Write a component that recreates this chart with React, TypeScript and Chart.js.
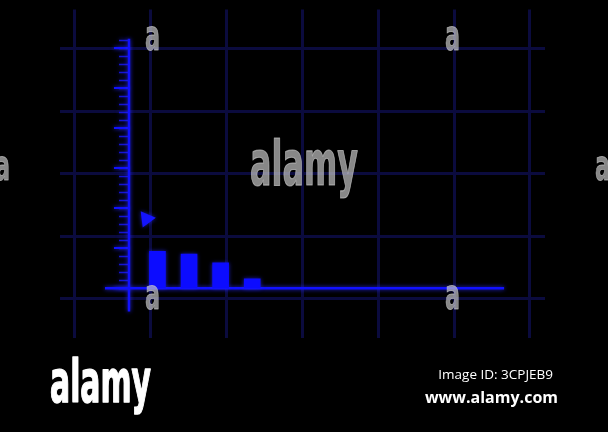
import React, { useEffect, useRef } from "react";
import { Chart, registerables } from "chart.js";

Chart.register(...registerables);

// ---- data ----
const BAR_X = [0.9, 1.9, 2.9, 3.9];
const BAR_VALUES = [0.92, 0.85, 0.63, 0.23];
const MARKER_X = [0.55];
const MARKER_Y = [1.73];
const MAJOR_TICKS = [0, 1, 2, 3, 4, 5, 6];
const MINOR_TICK_STEP = 0.2;
const MINOR_TICK_MAX = 6.2;
const GRID_X = [0, 1, 2, 3, 4, 5, 6];
const GRID_Y = [0, 1, 2, 3, 4];
const X_AXIS_RANGE = [-0.76, 11.87];
const Y_AXIS_RANGE = [-0.585, 6.22];

const BLUE = "#1111ff";
const GRID_COLOR = "#0b0b3e";

function drawFit(
  ctx: CanvasRenderingContext2D,
  text: string,
  cx: number,
  baseline: number,
  xHeight: number,
  width: number,
  color: string,
  bolden = 0
) {
  const size = xHeight / 0.53;
  ctx.save();
  ctx.font = `bold ${size}px 'Liberation Sans Narrow', 'DejaVu Sans Condensed', sans-serif`;
  ctx.fillStyle = color;
  ctx.strokeStyle = color;
  ctx.lineJoin = "round";
  ctx.textAlign = "center";
  ctx.textBaseline = "alphabetic";
  const w = ctx.measureText(text).width;
  ctx.translate(cx, baseline);
  ctx.scale(width / w, 1);
  ctx.fillText(text, 0, 0);
  if (bolden > 0) {
    ctx.lineWidth = bolden;
    ctx.strokeText(text, 0, 0);
  }
  ctx.restore();
}

const axisPlugin = {
  id: "axisLines",
  beforeDatasetsDraw(chart: any) {
    const { ctx, scales } = chart;
    const x = scales.x;
    const y = scales.y;
    const y0 = y.getPixelForValue(0);
    const x0 = x.getPixelForValue(0);
    ctx.save();
    ctx.shadowColor = "rgba(40,40,255,0.9)";
    ctx.shadowBlur = 4;
    // minor ticks
    ctx.strokeStyle = "rgba(25,25,255,0.8)";
    ctx.lineWidth = 1.5;
    ctx.beginPath();
    for (let v = 0; v <= MINOR_TICK_MAX + 1e-9; v += MINOR_TICK_STEP) {
      const py = Math.round(y.getPixelForValue(v)) + 0.5;
      ctx.moveTo(x0 - 10, py);
      ctx.lineTo(x0, py);
    }
    ctx.stroke();
    // major ticks
    ctx.strokeStyle = BLUE;
    ctx.lineWidth = 2;
    ctx.beginPath();
    MAJOR_TICKS.forEach((v) => {
      const py = Math.round(y.getPixelForValue(v));
      ctx.moveTo(x0 - 15, py);
      ctx.lineTo(x0, py);
    });
    ctx.stroke();
    // axis lines
    ctx.lineWidth = 2.5;
    ctx.beginPath();
    ctx.moveTo(x.getPixelForValue(X_AXIS_RANGE[0]), y0);
    ctx.lineTo(x.getPixelForValue(X_AXIS_RANGE[1]), y0);
    ctx.moveTo(x0, y.getPixelForValue(Y_AXIS_RANGE[0]));
    ctx.lineTo(x0, y.getPixelForValue(Y_AXIS_RANGE[1]));
    ctx.stroke();
    ctx.restore();
    ctx.save();
    ctx.shadowColor = "rgba(40,40,255,0.7)";
    ctx.shadowBlur = 4;
  },
  afterDatasetsDraw(chart: any) {
    chart.ctx.restore();
  },
};

const watermarkPlugin = {
  id: "watermark",
  afterDraw(chart: any) {
    const ctx: CanvasRenderingContext2D = chart.ctx;
    const gray = "rgba(200,200,200,0.68)";
    const smallA: [number, number][] = [
      [152.5, 50],
      [452.5, 50],
      [2.5, 180],
      [602.5, 180],
      [152.5, 309],
      [452.5, 309],
    ];
    smallA.forEach(([cx, b]) => drawFit(ctx, "a", cx, b, 23, 15, gray, 0.8));
    drawFit(ctx, "alamy", 304, 185, 33, 108, gray, 1.2);
    drawFit(ctx, "alamy", 100.5, 402, 31, 101, "#ffffff", 1.4);

    ctx.save();
    ctx.fillStyle = "#ffffff";
    ctx.textAlign = "right";
    ctx.textBaseline = "alphabetic";
    ctx.font = "13.5px 'Open Sans', sans-serif";
    ctx.fillText("Image ID: 3CPJEB9", 553, 379);
    ctx.font = "bold 16px 'Open Sans', sans-serif";
    ctx.fillText("www.alamy.com", 558, 403);
    ctx.restore();
  },
};

export default function App() {
  const canvasRef = useRef<HTMLCanvasElement | null>(null);

  useEffect(() => {
    if (!canvasRef.current) return;
    const chart = new Chart(canvasRef.current, {
      type: "bar",
      data: {
        datasets: [
          {
            type: "bar",
            data: BAR_X.map((x, i) => ({ x, y: BAR_VALUES[i] })),
            backgroundColor: "#0c0cff",
            borderWidth: 0,
            barThickness: 16,
            xAxisID: "x",
            yAxisID: "y",
          } as any,
          {
            type: "scatter",
            data: MARKER_X.map((x, i) => ({ x, y: MARKER_Y[i] })),
            pointStyle: "triangle",
            rotation: 83,
            pointRadius: 9.5,
            backgroundColor: "#1414ff",
            borderWidth: 0,
            xAxisID: "x",
            yAxisID: "y",
          } as any,
        ],
      },
      options: {
        responsive: false,
        animation: false,
        events: [],
        layout: { padding: { left: 60, right: 63, top: 2, bottom: 94 } },
        plugins: {
          legend: { display: false },
          tooltip: { enabled: false },
          title: { display: false },
        },
        scales: {
          gx: {
            type: "linear",
            position: "bottom",
            offset: false,
            min: -0.1978,
            max: 6.198,
            afterBuildTicks: (s: any) => {
              s.ticks = GRID_X.map((v) => ({ value: v }));
            },
            ticks: { display: false },
            grid: { color: GRID_COLOR, lineWidth: 3, drawTicks: false, offset: false },
            border: { display: false },
          },
          gy: {
            type: "linear",
            position: "left",
            offset: false,
            min: -0.625,
            max: 4.625,
            afterBuildTicks: (s: any) => {
              s.ticks = GRID_Y.map((v) => ({ value: v }));
            },
            ticks: { display: false },
            grid: { color: GRID_COLOR, lineWidth: 3, drawTicks: false, offset: false },
            border: { display: false },
          },
          x: {
            type: "linear",
            display: false,
            offset: false,
            grid: { offset: false },
            min: -2.1835,
            max: 13.1646,
          },
          y: {
            type: "linear",
            display: false,
            min: -1.2439,
            max: 6.9512,
          },
        } as any,
      },
      plugins: [axisPlugin, watermarkPlugin],
    });
    return () => chart.destroy();
  }, []);

  return (
    <div
      style={{
        position: "fixed",
        left: 0,
        top: 0,
        width: 608,
        height: 432,
        background: "#000",
      }}
    >
      <canvas ref={canvasRef} width={608} height={432} style={{ display: "block" }} />
    </div>
  );
}
